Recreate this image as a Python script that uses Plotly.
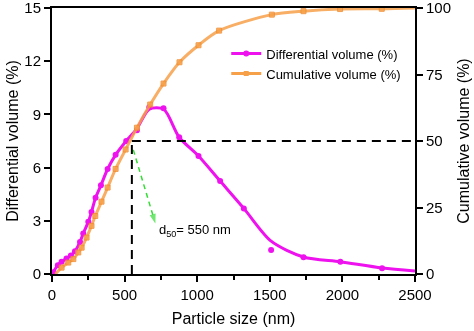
import plotly.graph_objects as go

# Differential volume (%) - left axis
diff_x = [10, 40, 66, 100, 130, 158, 193, 215, 250, 272, 300, 337, 383, 438, 511, 585, 670, 768, 876, 1009, 1158, 1321, 1509, 1732, 1986, 2273]
diff_y = [0.1, 0.5, 0.69, 0.88, 1.05, 1.28, 1.81, 2.29, 2.94, 3.5, 4.3, 5.0, 5.92, 6.72, 7.5, 8.1, 9.4, 9.34, 7.71, 6.65, 5.24, 3.70, 1.35, 0.94, 0.69, 0.32]
# smoothed curve drawn through the points
diff_curve_x = [0, 40, 66, 100, 130, 158, 193, 215, 250, 272, 300, 337, 383, 438, 511, 585, 670, 768, 876, 1009, 1158, 1321, 1509, 1732, 1986, 2273, 2500]
diff_curve_y = [0.0, 0.5, 0.69, 0.88, 1.05, 1.28, 1.81, 2.29, 2.94, 3.5, 4.3, 5.0, 5.92, 6.72, 7.5, 8.2, 9.3, 9.3, 7.71, 6.65, 5.24, 3.70, 1.85, 0.96, 0.69, 0.34, 0.17]

# Cumulative volume (%) - right axis
cum_x = [66, 112, 147, 181, 204, 238, 272, 298, 341, 383, 438, 507, 585, 676, 768, 878, 1009, 1151, 1514, 1732, 1984, 2271]
cum_y = [2.4, 4.3, 5.6, 8.1, 9.9, 13.7, 18.1, 21.8, 27.2, 32.5, 39.5, 46.8, 55.0, 63.7, 71.6, 79.6, 86.0, 91.5, 97.5, 98.8, 99.6, 99.7]
cum_curve_x = [23] + cum_x + [2500]
cum_curve_y = [0.0] + cum_y + [100.0]

x_ticks = [0, 500, 1000, 1500, 2000, 2500]
y_left_ticks = [0, 3, 6, 9, 12, 15]
y_right_ticks = [0, 25, 50, 75, 100]
d50 = 550
# green arrow (from the d50 corner to the label), left-axis units
arrow_x = [560, 712]
arrow_y = [7.0, 2.85]

MAG = "#EE12EE"
ORA = "#F7A04A"
GREEN = "#33DD33"
FONT = "Liberation Sans, Arial, sans-serif"

fig = go.Figure()

fig.add_trace(go.Scatter(x=diff_curve_x, y=diff_curve_y, mode="lines",
                         line=dict(color=MAG, width=3, shape="spline", smoothing=0.8),
                         showlegend=False, hoverinfo="skip"))
fig.add_trace(go.Scatter(x=diff_x, y=diff_y, mode="markers",
                         marker=dict(color=MAG, size=6, symbol="circle"),
                         showlegend=False))
fig.add_trace(go.Scatter(x=[None], y=[None], mode="lines+markers", name="Differential volume (%)",
                         line=dict(color=MAG, width=3), marker=dict(color=MAG, size=6)))

fig.add_trace(go.Scatter(x=cum_curve_x, y=cum_curve_y, mode="lines", yaxis="y2",
                         line=dict(color=ORA, width=3, shape="spline", smoothing=0.8),
                         opacity=0.85, showlegend=False, hoverinfo="skip"))
fig.add_trace(go.Scatter(x=cum_x, y=cum_y, mode="markers", yaxis="y2",
                         marker=dict(color=ORA, size=5, symbol="square",
                                     line=dict(color="#F08C30", width=1)),
                         opacity=0.85, showlegend=False))
fig.add_trace(go.Scatter(x=[None], y=[None], mode="lines+markers", name="Cumulative volume (%)",
                         line=dict(color=ORA, width=3),
                         marker=dict(color=ORA, size=5, symbol="square")))

# green dashed arrow
fig.add_trace(go.Scatter(x=arrow_x, y=arrow_y, mode="lines+markers", showlegend=False,
                         hoverinfo="skip",
                         line=dict(color=GREEN, width=1.5, dash="5px,4px"),
                         marker=dict(symbol="arrow", size=[0, 10], color=GREEN,
                                     angleref="previous", line=dict(width=0))))

# d50 dashed guide lines
fig.add_shape(type="line", xref="x", yref="y2", x0=d50, x1=d50, y0=0, y1=50,
              line=dict(color="black", width=2, dash="9px,6px"))
fig.add_shape(type="line", xref="x", yref="y2", x0=d50, x1=2500, y0=50, y1=50,
              line=dict(color="black", width=2, dash="9px,6px"))

fig.add_annotation(x=722, y=2.45, xref="x", yref="y", xanchor="left", yanchor="middle",
                   text="d<sub>50</sub>= 550 nm", showarrow=False,
                   font=dict(family=FONT, size=13, color="black"))

axis_common = dict(showline=True, linecolor="black", linewidth=2, ticks="outside",
                   tickcolor="black", tickwidth=2, ticklen=6, showgrid=False, zeroline=False,
                   automargin=False, ticklabeloverflow="allow",
                   tickfont=dict(family=FONT, size=15, color="black"))

fig.update_layout(
    width=474, height=331,
    margin=dict(l=52, r=59, t=8, b=57),
    plot_bgcolor="white", paper_bgcolor="white",
    font=dict(family=FONT, color="black"),
    xaxis=dict(range=[0, 2500], tickvals=x_ticks, mirror=True,
               minor=dict(dtick=250, tick0=0, ticks="outside", ticklen=4, tickwidth=2, tickcolor="black"),
               title=dict(text="Particle size (nm)", font=dict(family=FONT, size=16), standoff=11),
               **axis_common),
    yaxis=dict(range=[0, 15], tickvals=y_left_ticks, mirror=True,
               title=dict(text="Differential volume (%)", font=dict(family=FONT, size=16), standoff=2),
               **axis_common),
    yaxis2=dict(range=[0, 100], tickvals=y_right_ticks, overlaying="y", side="right",
                title=dict(text="Cumulative volume (%)", font=dict(family=FONT, size=16), standoff=8),
                **axis_common),
    legend=dict(x=0.48, y=0.885, xanchor="left", yanchor="top", bgcolor="rgba(0,0,0,0)",
                font=dict(family=FONT, size=13, color="black"), tracegroupgap=0),
    showlegend=True,
)

fig.write_html("out.html")
